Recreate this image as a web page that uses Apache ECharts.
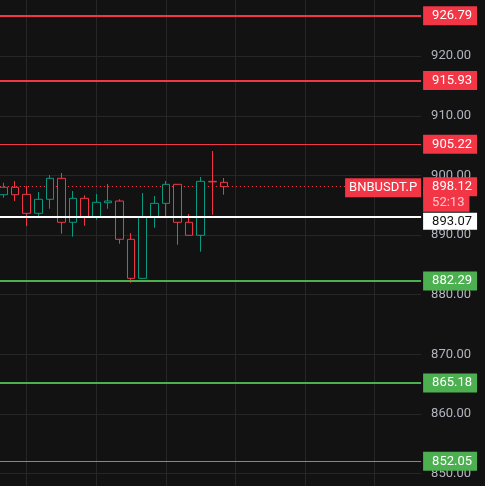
<!DOCTYPE html>
<html>
<head>
<meta charset="utf-8">
<script src="https://cdn.jsdelivr.net/npm/echarts@6/dist/echarts.min.js"></script>
<style>
  html, body { margin: 0; padding: 0; background: #121212; }
  #chart { width: 485px; height: 486px; }
</style>
</head>
<body>
<div id="chart"></div>
<script>
// ticker info
const symbol = 'BNBUSDT.P'
const lastPrice = 898.12
const countdown = '52:13'

// candles (slot 1..20 of the time axis)
const opens  = [896.77, 898.01, 896.83, 893.65, 896.00, 899.52, 892.14, 896.16, 892.98, 895.42,
                895.71, 889.29, 882.74, 892.98, 895.32, 898.51, 892.14, 889.96, 899.01, 898.85]
const closes = [898.01, 896.77, 893.65, 896.00, 899.52, 892.14, 896.16, 892.98, 895.49, 895.71,
                889.29, 882.74, 892.98, 895.32, 898.51, 892.14, 889.96, 899.01, 898.92, 898.12]
const lows   = [896.26, 895.71, 891.52, 893.08, 894.42, 890.23, 889.72, 891.57, 892.57, 894.42,
                888.55, 882.01, 882.74, 891.23, 893.19, 888.38, 889.96, 887.21, 893.41, 896.77]
const highs  = [898.78, 899.06, 898.23, 897.22, 900.07, 900.41, 897.39, 896.67, 896.88, 898.56,
                896.00, 890.34, 897.05, 896.55, 899.06, 898.51, 893.53, 899.74, 904.10, 899.57]

// horizontal levels
const levels = [926.79, 915.93, 905.22, 893.07, 882.29, 865.18, 852.05]

// price scale
const yTicks = [840, 850, 860, 870, 880, 890, 900, 910, 920, 930]

const slotCount = 38
const categories = Array.from({ length: slotCount }, (_, i) => 't' + i)

const UP = '#089981'
const DOWN = '#f23645'
const GREEN = '#4caf50'
const BG = '#121212'
const FONT = 'Roboto, sans-serif'

const levelStyles = [
  { color: DOWN, width: 2 },
  { color: DOWN, width: 2 },
  { color: DOWN, width: 1 },
  { color: '#ffffff', width: 2, text: '#131313', shift: true },
  { color: GREEN, width: 2 },
  { color: GREEN, width: 2 },
  { color: GREEN, width: 1 }
]

const candleData = opens.map((o, i) => [i + 1, o, closes[i], lows[i], highs[i]])

const levelLines = levels.map((v, i) => {
  const st = levelStyles[i]
  const txt = v.toFixed(2)
  const label = st.shift ? {
    position: 'end',
    distance: 2,
    formatter: '{g| }\n{v|' + txt + '}',
    rich: {
      g: { fontSize: 9, lineHeight: 9 },
      v: { backgroundColor: st.color, color: st.text, padding: [2, 5, 2, 9], fontSize: 13, lineHeight: 15, fontFamily: FONT }
    }
  } : {
    position: 'end',
    distance: 2,
    formatter: txt,
    color: '#ffffff',
    backgroundColor: st.color,
    padding: [2, 5, 2, 9],
    fontSize: 13,
    lineHeight: 15,
    fontFamily: FONT
  }
  return {
    yAxis: v,
    lineStyle: { color: st.color, width: st.width, type: 'solid' },
    label: label
  }
})

const chart = echarts.init(document.getElementById('chart'), null, { renderer: 'canvas' })

chart.setOption({
  animation: false,
  backgroundColor: BG,
  grid: {
    left: -8.1,
    right: 63.9,
    top: -3.44,
    bottom: -47.2,
    containLabel: false,
    outerBoundsMode: 'none'
  },
  xAxis: {
    type: 'category',
    data: categories,
    boundaryGap: false,
    axisLine: { show: false },
    axisTick: { show: false },
    axisLabel: { show: false },
    splitLine: {
      show: true,
      interval: (idx) => idx % 6 === 3,
      lineStyle: { color: '#262626', width: 1 }
    }
  },
  yAxis: {
    type: 'value',
    position: 'right',
    min: yTicks[0],
    max: yTicks[yTicks.length - 1],
    interval: 10,
    scale: true,
    axisLine: { show: false },
    axisTick: { show: false },
    axisLabel: {
      margin: 10,
      color: '#b2b5be',
      fontSize: 13,
      fontFamily: FONT,
      formatter: (v) => v.toFixed(2)
    },
    splitLine: { show: true, lineStyle: { color: '#262626', width: 1 } }
  },
  series: [
    {
      // last price dotted line, kept behind the candles
      type: 'line',
      data: [],
      silent: true,
      markLine: {
        z: 1,
        silent: true,
        symbol: ['none', 'none'],
        animation: false,
        data: [
          {
            yAxis: lastPrice,
            lineStyle: { color: DOWN, width: 1, type: [1, 3] },
            label: {
              position: 'end',
              distance: 2,
              verticalAlign: 'top',
              formatter: countdown,
              color: 'rgba(255,255,255,0.72)',
              backgroundColor: DOWN,
              padding: [9, 5, 2, 9],
              fontSize: 13,
              lineHeight: 14,
              fontFamily: FONT
            }
          },
          {
            yAxis: lastPrice,
            lineStyle: { color: DOWN, width: 1, type: [1, 3] },
            label: {
              position: 'end',
              distance: 2,
              formatter: lastPrice.toFixed(2),
              color: '#ffffff',
              backgroundColor: DOWN,
              padding: [2, 5, 2, 9],
              fontSize: 13,
              lineHeight: 15,
              fontFamily: FONT
            }
          },
          {
            yAxis: lastPrice,
            lineStyle: { color: 'rgba(0,0,0,0)', width: 0 },
            label: {
              show: true,
              position: 'insideEndTop',
              distance: [0, -1],
              verticalAlign: 'middle',
              align: 'right',
              formatter: symbol,
              color: '#ffffff',
              backgroundColor: DOWN,
              padding: [2, 4, 2, 4],
              fontSize: 13,
              lineHeight: 15,
              fontFamily: FONT
            }
          }
        ]
      }
    },
    {
      type: 'candlestick',
      data: candleData,
      encode: { x: 0, y: [1, 2, 3, 4] },
      barWidth: 8,
      clip: false,
      itemStyle: {
        color: BG,
        color0: BG,
        borderColor: UP,
        borderColor0: DOWN,
        borderWidth: 1
      },
      markLine: {
        silent: true,
        symbol: ['none', 'none'],
        animation: false,
        data: levelLines
      }
    }
  ]
})
</script>
</body>
</html>
